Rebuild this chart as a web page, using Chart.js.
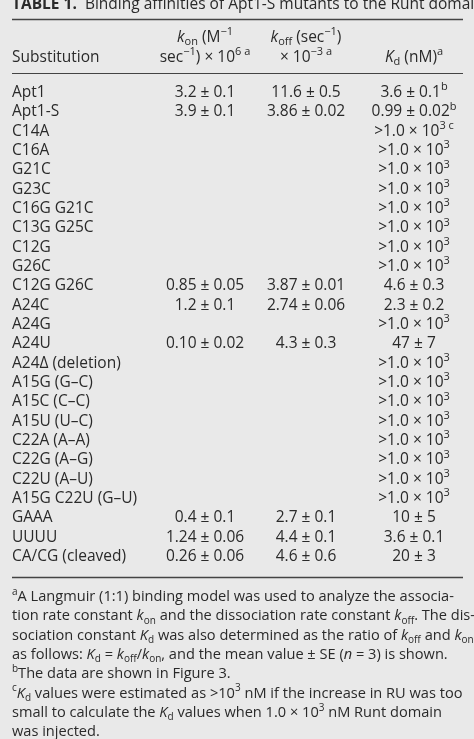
<!DOCTYPE html>
<html>
<head>
<meta charset="utf-8">
<script src="https://cdn.jsdelivr.net/npm/chart.js@4"></script>
<style>
  html, body { margin: 0; padding: 0; background: #e9e9e9; }
  #wrap { width: 474px; height: 739px; }
</style>
</head>
<body>
<div id="wrap"><canvas id="tabela"></canvas></div>
<script>
// dados da tabela
const substituicoes = ["Apt1", "Apt1-S", "C14A", "C16A", "G21C", "G23C", "C16G G21C", "C13G G25C",
  "C12G", "G26C", "C12G G26C", "A24C", "A24G", "A24U", "A24\u0394 (deletion)", "A15G (G\u2013C)",
  "A15C (C\u2013C)", "A15U (U\u2013C)", "C22A (A\u2013A)", "C22G (A\u2013G)", "C22U (A\u2013U)",
  "A15G C22U (G\u2013U)", "GAAA", "UUUU", "CA/CG (cleaved)"];
const kon = ["3.2 \u00b1 0.1", "3.9 \u00b1 0.1", "", "", "", "", "", "", "", "", "0.85 \u00b1 0.05",
  "1.2 \u00b1 0.1", "", "0.10 \u00b1 0.02", "", "", "", "", "", "", "", "", "0.4 \u00b1 0.1",
  "1.24 \u00b1 0.06", "0.26 \u00b1 0.06"];
const koff = ["11.6 \u00b1 0.5", "3.86 \u00b1 0.02", "", "", "", "", "", "", "", "", "3.87 \u00b1 0.01",
  "2.74 \u00b1 0.06", "", "4.3 \u00b1 0.3", "", "", "", "", "", "", "", "", "2.7 \u00b1 0.1",
  "4.4 \u00b1 0.1", "4.6 \u00b1 0.6"];
const MAIOR = ">1.0 \u00d7 10^{3}";
const kd = ["3.6 \u00b1 0.1^{b}", "0.99 \u00b1 0.02^{b}", MAIOR + "^{ c}", MAIOR, MAIOR, MAIOR, MAIOR, MAIOR,
  MAIOR, MAIOR, "4.6 \u00b1 0.3", "2.3 \u00b1 0.2", MAIOR, "47 \u00b1 7", MAIOR, MAIOR, MAIOR, MAIOR,
  MAIOR, MAIOR, MAIOR, MAIOR, "10 \u00b1 5", "3.6 \u00b1 0.1", "20 \u00b1 3"];
const titulo = "Binding affinities of Apt1-S mutants to the Runt domain";
const notas = [
  "^{a}A Langmuir (1:1) binding model was used to analyze the associa-",
  "tion rate constant *k*_{on} and the dissociation rate constant *k*_{off}. The dis-",
  "sociation constant *K*_{d} was also determined as the ratio of *k*_{off} and *k*_{on}",
  "as follows: *K*_{d} = *k*_{off}/*k*_{on}, and the mean value \u00b1 SE (*n* = 3) is shown.",
  "^{b}The data are shown in Figure 3.",
  "^{c}*K*_{d} values were estimated as >10^{3} nM if the increase in RU was too",
  "small to calculate the *K*_{d} values when 1.0 \u00d7 10^{3} nM Runt domain",
  "was injected."
];

const FONTE = '"Open Sans", "Noto Sans", sans-serif';
const COR = '#2a2a2a';

// quebra o texto em pedacos: ^{sup}, _{sub}, *italico*
function parse(str) {
  const runs = [];
  let i = 0, buf = '', ital = false;
  const push = (t, k) => { if (t) runs.push({ t: t, k: k, i: ital }); };
  while (i < str.length) {
    const c = str[i];
    if ((c === '^' || c === '_') && str[i + 1] === '{') {
      push(buf, 'n'); buf = '';
      const fim = str.indexOf('}', i);
      push(str.slice(i + 2, fim), c === '^' ? 'sup' : 'sub');
      i = fim + 1;
    } else if (c === '*') {
      push(buf, 'n'); buf = ''; ital = !ital; i++;
    } else { buf += c; i++; }
  }
  push(buf, 'n');
  return runs;
}

function fonte(r, size) {
  const s = r.k === 'n' ? size : Math.round(size * 0.68);
  return (r.i ? 'italic ' : '') + s + 'px ' + FONTE;
}

function largura(ctx, runs, size) {
  let w = 0;
  runs.forEach(r => { ctx.font = fonte(r, size); w += ctx.measureText(r.t).width; });
  return w;
}

function escreve(ctx, str, x, y, align, size) {
  const runs = parse(str);
  const w = largura(ctx, runs, size);
  let px = align === 'center' ? x - w / 2 : (align === 'right' ? x - w : x);
  ctx.textBaseline = 'alphabetic';
  ctx.textAlign = 'left';
  runs.forEach(r => {
    ctx.font = fonte(r, size);
    let dy = 0;
    if (r.k === 'sup') dy = -size * 0.42;
    if (r.k === 'sub') dy = size * 0.22;
    ctx.fillText(r.t, px, y + dy);
    px += ctx.measureText(r.t).width;
  });
}

function linha(ctx, y, w) {
  ctx.strokeStyle = '#444';
  ctx.lineWidth = w;
  ctx.beginPath();
  ctx.moveTo(12, y);
  ctx.lineTo(463, y);
  ctx.stroke();
}

// plugin que desenha as celulas usando as escalas
const tabelaPlugin = {
  id: 'tabela',
  afterDraw(chart) {
    const ctx = chart.ctx;
    const x = chart.scales.x;
    const y = chart.scales.y;
    const colSub = x.getPixelForValue(12);
    const colKon = x.getPixelForValue(205);
    const colKoff = x.getPixelForValue(306);
    const colKd = x.getPixelForValue(414);
    ctx.save();
    ctx.fillStyle = COR;

    // titulo
    ctx.font = 'bold 15.5px ' + FONTE;
    ctx.textAlign = 'left';
    ctx.textBaseline = 'alphabetic';
    ctx.fillText('TABLE 1.', 12, 9);
    const wt = ctx.measureText('TABLE 1.  ').width;
    ctx.font = '15.5px ' + FONTE;
    ctx.fillText(titulo, 12 + wt, 9);

    linha(ctx, 19.5, 1.5);
    // cabecalho
    escreve(ctx, '*k*_{on} (M^{\u22121}', colKon, 42, 'center', 15.5);
    escreve(ctx, 'sec^{\u22121}) \u00d7 10^{6 a}', colKon, 62, 'center', 15.5);
    escreve(ctx, '*k*_{off} (sec^{\u22121})', colKoff, 42, 'center', 15.5);
    escreve(ctx, '\u00d7 10^{\u22123 a}', colKoff, 62, 'center', 15.5);
    escreve(ctx, 'Substitution', colSub, 62, 'left', 15.5);
    escreve(ctx, '*K*_{d} (nM)^{a}', colKd, 62, 'center', 15.5);
    linha(ctx, 73.5, 1);

    substituicoes.forEach((s, i) => {
      const py = y.getPixelForValue(i) + 5;
      escreve(ctx, s, colSub, py, 'left', 15.5);
      if (kon[i]) escreve(ctx, kon[i], colKon, py, 'center', 15.5);
      if (koff[i]) escreve(ctx, koff[i], colKoff, py, 'center', 15.5);
      escreve(ctx, kd[i], colKd, py, 'center', 15.5);
    });
    linha(ctx, 577.5, 1.5);

    notas.forEach((n, i) => {
      escreve(ctx, n, 12, 601 + i * 19.3, 'left', 14.6);
    });
    ctx.restore();
  }
};

new Chart(document.getElementById('tabela'), {
  type: 'bar',
  data: {
    labels: substituicoes,
    datasets: [{ data: substituicoes.map(() => null) }]
  },
  options: {
    responsive: true,
    maintainAspectRatio: false,
    animation: false,
    indexAxis: 'y',
    layout: { padding: { top: 92, bottom: 739 - 556, left: 0, right: 0 } },
    plugins: { legend: { display: false }, tooltip: { enabled: false } },
    scales: {
      x: { type: 'linear', min: 0, max: 474, display: false },
      y: { type: 'category', offset: false, display: false }
    }
  },
  plugins: [tabelaPlugin]
});
</script>
</body>
</html>
